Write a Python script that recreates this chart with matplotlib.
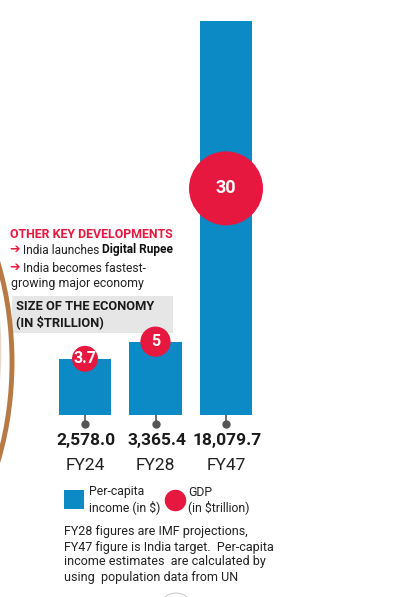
import numpy as np
import matplotlib
matplotlib.use('Agg')
import matplotlib.pyplot as plt
from matplotlib import font_manager, transforms
from matplotlib.patches import Rectangle, Arc
from matplotlib.lines import Line2D

years = ['FY24', 'FY28', 'FY47']
per_capita = [2578.0, 3365.4, 18079.7]
per_capita_labels = ['2,578.0', '3,365.4', '18,079.7']
gdp = [3.7, 5, 30]
gdp_labels = ['3.7', '5', '30']

BLUE = '#0B8AC6'
RED = '#E6183F'
GREY = '#555555'

avail = {f.name for f in font_manager.fontManager.ttflist}
def pick(*names):
    return next((n for n in names if n in avail), 'DejaVu Sans')

cond = pick('Liberation Sans Narrow', 'Roboto', 'DejaVu Sans')
body = pick('Roboto', 'Open Sans', 'DejaVu Sans')

W, H = 400, 597
fig = plt.figure(figsize=(W / 100, H / 100), dpi=100)

def fx(x):
    return x / W

def fy(y):
    return 1 - y / H

# photo edge on the left
fig.add_artist(Arc((fx(-100), fy(362)), 2 * 112 / W, 2 * 205 / H, theta1=-60, theta2=60,
                   transform=fig.transFigure, color='#B87A45', lw=3.5))
fig.add_artist(Arc((fx(-100), fy(350)), 2 * 100 / W, 2 * 190 / H, theta1=-60, theta2=60,
                   transform=fig.transFigure, color='#E8D9C8', lw=2))
fig.add_artist(Arc((fx(176), fy(610)), 2 * 17 / W, 2 * 17 / H, theta1=30, theta2=150,
                   transform=fig.transFigure, color='#CCCCCC', lw=0.8))

# bars
ax = fig.add_axes([fx(50), fy(415), 212 / W, 400 / H])
ax.axis('off')
ytop = per_capita[-1] * 400 / 394
ax.set_xlim(-35 / 70.5, 177 / 70.5)
ax.set_ylim(0, ytop)
x = np.arange(len(years))
ax.bar(x, per_capita, width=0.75, color=BLUE, zorder=2)

bubble_y = np.minimum(per_capita, 10400)
ax.scatter(x, bubble_y, s=np.array(gdp) * 94.6, color=RED, zorder=3, clip_on=False,
           linewidths=0)
for xi, yi, lab, g in zip(x, bubble_y, gdp_labels, gdp):
    ax.text(xi, yi, lab, color='white', ha='center', va='center', fontweight='bold',
            fontsize=11.5 if g < 10 else 13, family=cond, zorder=4)

dy = 9 * ytop / 400
for xi in x:
    ax.plot([xi, xi], [0, -dy], color=GREY, lw=1.2, clip_on=False, zorder=1)
    ax.plot([xi], [-dy], 'o', ms=5, color=GREY, clip_on=False, zorder=1)

tr = transforms.blended_transform_factory(ax.transData, fig.transFigure)
for xi, v, yr in zip(x, per_capita_labels, years):
    ax.text(xi + 0.02, fy(440), v, transform=tr, ha='center', va='center',
            fontweight='bold', fontsize=12.5, family=cond, color='#1a1a1a')
    ax.text(xi, fy(465), yr, transform=tr, ha='center', va='center',
            fontsize=12.5, family=body, color='#222222')

# headline texts
fig.text(fx(10), fy(235), 'OTHER KEY DEVELOPMENTS', color=RED, fontweight='bold',
         fontsize=8.9, family=cond, va='center')
fig.text(fx(9), fy(250), '➔', color=RED, fontsize=9, family='DejaVu Sans', va='center')
fig.text(fx(9), fy(268), '➔', color=RED, fontsize=9, family='DejaVu Sans', va='center')
t1 = fig.text(fx(23), fy(250), 'India launches', fontsize=8.6, family=body, va='center',
              color='#222222')
fig.canvas.draw()
x1 = t1.get_window_extent(fig.canvas.get_renderer()).x1
fig.text(fx(x1 + 3), fy(250), 'Digital Rupee', fontsize=8.6, family=body,
         fontweight='bold', va='center', color='#111111')
fig.text(fx(23), fy(269), 'India becomes fastest-', fontsize=8.7, family=body,
         va='center', color='#222222')
fig.text(fx(11), fy(284), 'growing major economy', fontsize=8.9, family=body,
         va='center', color='#222222')

fig.add_artist(Rectangle((fx(12), fy(333)), 161 / W, 37 / H, transform=fig.transFigure,
                         color='#E6E6E6', lw=0, zorder=0))
fig.text(fx(16), fy(307), 'SIZE OF THE ECONOMY', fontsize=9.3, family=cond,
         fontweight='bold', va='center', color='#1a1a1a')
fig.text(fx(16), fy(322), '(IN $TRILLION)', fontsize=9.3, family=cond,
         fontweight='bold', va='center', color='#1a1a1a')

# legend
fig.add_artist(Rectangle((fx(64), fy(509)), 20 / W, 19 / H, transform=fig.transFigure,
                         color=BLUE, lw=0))
fig.text(fx(89), fy(492), 'Per-capita', fontsize=8.8, family=body, va='center',
         color='#222222')
fig.text(fx(89), fy(507), 'income (in $)', fontsize=8.8, family=body, va='center',
         color='#222222')
fig.add_artist(Line2D([fx(175)], [fy(500)], marker='o', ms=14.5, color=RED,
                      transform=fig.transFigure, lw=0))
fig.text(fx(188), fy(492), 'GDP', fontsize=8.8, family=body, va='center', color='#222222')
fig.text(fx(188), fy(507), '(in $trillion)', fontsize=8.8, family=body, va='center',
         color='#222222')

note = ['FY28 figures are IMF projections,',
        'FY47 figure is India target.  Per-capita',
        'income estimates  are calculated by',
        'using  population data from UN']
for i, line in enumerate(note):
    fig.text(fx(64), fy(532 + 15 * i), line, fontsize=9, family=body, va='center',
             color='#222222')

fig.savefig('out.png', dpi=100)
